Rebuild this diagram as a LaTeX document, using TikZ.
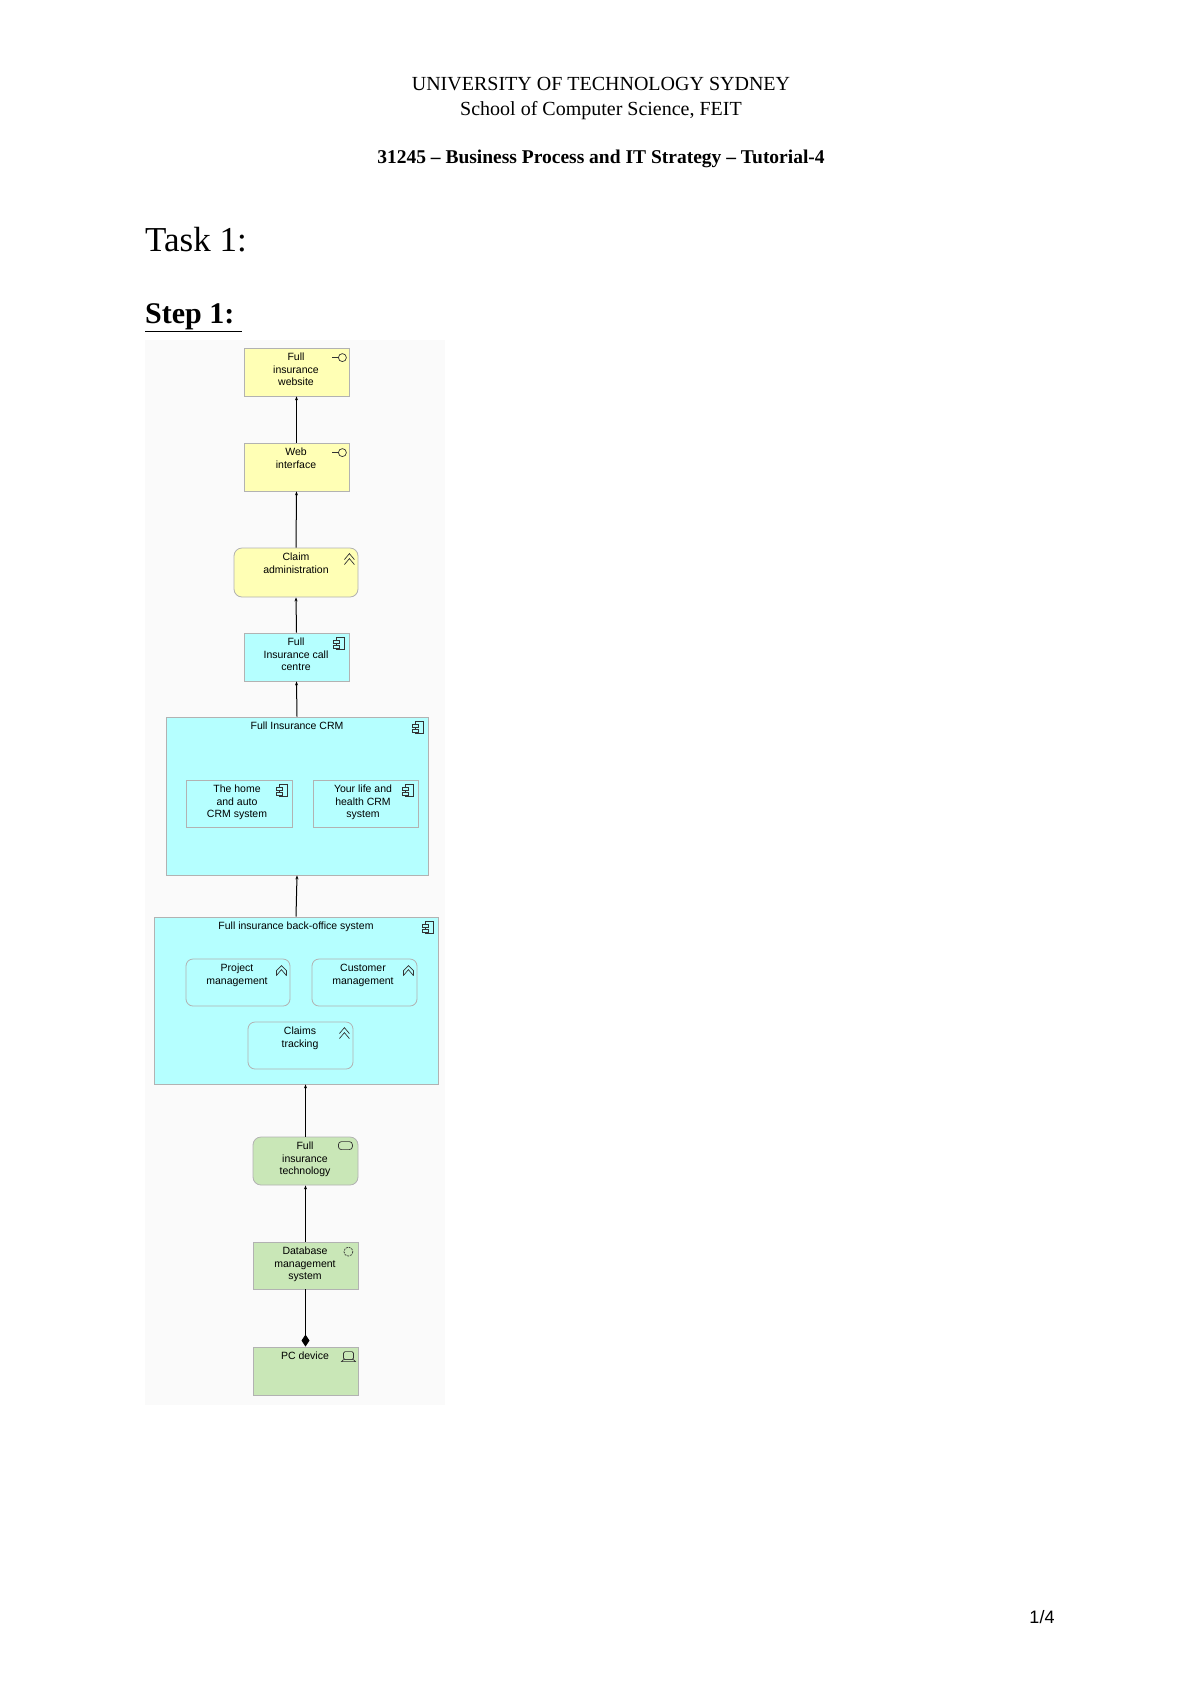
\documentclass[tikz,border=0pt]{standalone}
\usepackage{fontspec}
\setmainfont{Liberation Serif}
\newfontfamily\dgfont{Liberation Sans}
\usetikzlibrary{arrows.meta}
\definecolor{ayel}{HTML}{FFFFB5}
\definecolor{acyan}{HTML}{B5FFFF}
\definecolor{agreen}{HTML}{C9E7B7}
\begin{document}
\begin{tikzpicture}[x=1pt,y=-1pt,
  box/.style={draw=black!30,line width=0.8pt,inner sep=0pt},
  lbl/.style={font=\dgfont\fontsize{10.5}{12.5}\selectfont,align=center,anchor=north,inner sep=0pt},
  conn/.style={line width=1pt,-{Stealth[length=4pt,width=3pt]}},
  ic/.style={line width=0.7pt,black!80}]
\useasboundingbox (0,0) rectangle (1200,1698);
\fill[black!2] (145,340) rectangle (445,1405);
% header
\node[font=\fontsize{20}{23}\selectfont] (h1) at (601,84) {UNIVERSITY OF TECHNOLOGY SYDNEY};
\node[font=\fontsize{20}{23}\selectfont] (h2) at (601,111) {School of Computer Science, FEIT};
\node[font=\bfseries\fontsize{19.5}{22}\selectfont] (h3) at (601,159) {31245 -- Business Process and IT Strategy -- Tutorial-4};
\node[font=\fontsize{35}{38}\selectfont,anchor=west,inner sep=0pt] (t1) at (145,240) {Task 1:};
\node[font=\bfseries\fontsize{30}{34}\selectfont,anchor=west,inner sep=0pt] (s1) at (145,318) {\underline{Step 1:\ }};
\node[font=\dgfont\fontsize{18}{20}\selectfont] (pg) at (1042,1617) {1/4};
% boxes
\node[box,fill=ayel,minimum width=105,minimum height=48] (web) at (296.5,372) {};
\node[lbl] at (296,353) {Full\\insurance\\website};
\node[box,fill=ayel,minimum width=105,minimum height=48] (wi) at (296.5,467) {};
\node[lbl] at (296,448) {Web\\interface};
\node[box,fill=ayel,rounded corners=8pt,minimum width=124,minimum height=49] (ca) at (296,572.5) {};
\node[lbl] at (296,553) {Claim\\administration};
\node[box,fill=acyan,minimum width=105,minimum height=48] (cc) at (296.5,657) {};
\node[lbl] at (296,638) {Full\\Insurance call\\centre};
\node[box,fill=acyan,minimum width=262,minimum height=158] (crm) at (297,796) {};
\node[lbl] at (297,722) {Full Insurance CRM};
\node[box,fill=acyan,minimum width=106,minimum height=47] (ha) at (239,803.5) {};
\node[lbl] at (237,785) {The home\\and auto\\CRM system};
\node[box,fill=acyan,minimum width=105,minimum height=47] (lh) at (365.5,803.5) {};
\node[lbl] at (363,785) {Your life and\\health CRM\\system};
\node[box,fill=acyan,minimum width=284,minimum height=167] (bo) at (296,1000.5) {};
\node[lbl] at (296,922) {Full insurance back-office system};
\node[box,fill=acyan,rounded corners=7pt,minimum width=104,minimum height=47] (pm) at (238,982.5) {};
\node[lbl] at (237,964) {Project\\management};
\node[box,fill=acyan,rounded corners=7pt,minimum width=105,minimum height=47] (cm) at (364.5,982.5) {};
\node[lbl] at (363,964) {Customer\\management};
\node[box,fill=acyan,rounded corners=7pt,minimum width=105,minimum height=47] (ct) at (300.5,1045.5) {};
\node[lbl] at (300,1027) {Claims\\tracking};
\node[box,fill=agreen,rounded corners=8pt,minimum width=105,minimum height=48] (tech) at (305.5,1161) {};
\node[lbl] at (305,1142) {Full\\insurance\\technology};
\node[box,fill=agreen,minimum width=105,minimum height=47] (db) at (305.5,1265.5) {};
\node[lbl] at (305,1247) {Database\\management\\system};
\node[box,fill=agreen,minimum width=105,minimum height=48] (pc) at (305.5,1371) {};
\node[lbl] at (305,1352) {PC device};
% connectors
\draw[conn] (wi.north) -- (web.south);
\draw[conn] (ca.north) -- (wi.south);
\draw[conn] (cc.north) -- (ca.south);
\draw[conn] (crm.north) -- (cc.south);
\draw[conn] (bo.north) -- (crm.south);
\draw[conn] (tech.north) -- (tech.north |- bo.south);
\draw[conn] (db.north) -- (tech.south);
\draw[line width=1pt,-{Diamond[length=12pt,width=8pt]}] (db.south) -- (pc.north);
% icons: interface
\foreach \n in {web,wi}{
  \draw[ic] ([xshift=-17pt,yshift=-10pt]\n.north east) -- ++(6,0);
  \draw[ic] ([xshift=-7pt,yshift=-10pt]\n.north east) circle (4);}
% function icons
\foreach \n/\s in {ca/1,pm/0,cm/0,ct/1}{
  \draw[ic] ([xshift=-14pt,yshift=-17pt]\n.north east) -- ++(5,-6) -- ++(5,6);
  \ifnum\s=1
  \draw[ic] ([xshift=-14pt,yshift=-12pt]\n.north east) -- ++(5,-6) -- ++(5,6);
  \else
  \draw[ic] ([xshift=-14pt,yshift=-17pt]\n.north east) -- ++(0,-5) -- ++(5,-5) -- ++(5,5) -- ++(0,5);
  \fi}
% component icons
\foreach \n in {cc,crm,ha,lh,bo}{
  \draw[ic] ([xshift=-13pt,yshift=-5pt]\n.north east) rectangle ++(8,12);
  \draw[ic,fill=acyan] ([xshift=-16pt,yshift=-8pt]\n.north east) rectangle ++(6,2.5);
  \draw[ic,fill=acyan] ([xshift=-16pt,yshift=-13pt]\n.north east) rectangle ++(6,2.5);}
% service icon
\draw[ic,rounded corners=3pt] ([xshift=-20pt,yshift=-5pt]tech.north east) rectangle ++(14,8);
% system software icon
\draw[ic,dash pattern=on 2pt off 1pt] ([xshift=-10pt,yshift=-10pt]db.north east) circle (4.5);
% device icon
\draw[ic,rounded corners=1.5pt] ([xshift=-15pt,yshift=-5pt]pc.north east) rectangle ++(10,8);
\draw[ic] ([xshift=-17pt,yshift=-15pt]pc.north east) -- ++(2,-2) -- ++(10,0) -- ++(2,2) -- cycle;
\end{tikzpicture}
\end{document}
